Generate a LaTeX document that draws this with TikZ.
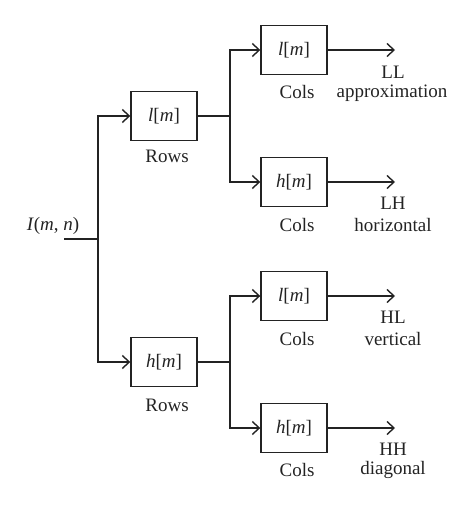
\documentclass[tikz,border=0pt]{standalone}
\usepackage{fontspec}
\setmainfont{Liberation Serif}
\usetikzlibrary{arrows.meta}
\definecolor{ink}{RGB}{35,35,35}
\begin{document}
\begin{tikzpicture}[x=1pt,y=-1pt,
  filt/.style={draw=ink,line width=1.4pt,minimum width=66pt,minimum height=49pt,inner sep=0pt,text=ink,font=\fontsize{19}{21}\selectfont},
  lbl/.style={text=ink,font=\fontsize{19}{21}\selectfont,inner sep=0pt},
  wire/.style={draw=ink,line width=1.4pt},
  arr/.style={wire,-{Straight Barb[length=7pt,width=13pt,line width=1.4pt]}}]
\useasboundingbox (0,0) rectangle (474,505);
% filter boxes
\node[filt] (rl) at (164,116) {\textit{l}[\textit{m}]};
\node[filt] (rh) at (164,362) {\textit{h}[\textit{m}]};
\node[filt] (c1) at (294,50) {\textit{l}[\textit{m}]};
\node[filt] (c2) at (294,182) {\textit{h}[\textit{m}]};
\node[filt] (c3) at (294,296) {\textit{l}[\textit{m}]};
\node[filt] (c4) at (294,428) {\textit{h}[\textit{m}]};
% labels
\node[lbl] (inl) at (53,226) {\textit{I}(\textit{m}, \textit{n})};
\node[lbl] (r1) at (167,156) {Rows};
\node[lbl] (r2) at (167,405) {Rows};
\node[lbl] (k1) at (297,92) {Cols};
\node[lbl] (k2) at (297,225) {Cols};
\node[lbl] (k3) at (297,339) {Cols};
\node[lbl] (k4) at (297,470) {Cols};
\node[lbl] (t1) at (393,72) {LL};
\node[lbl] (u1) at (392,93) {approximation};
\node[lbl] (t2) at (393,203) {LH};
\node[lbl] (u2) at (393,225) {horizontal};
\node[lbl] (t3) at (393,317) {HL};
\node[lbl] (u3) at (393,339) {vertical};
\node[lbl] (t4) at (393,449) {HH};
\node[lbl] (u4) at (393,470) {diagonal};
% junction coordinates
\coordinate (in) at (64,239);
\coordinate (s0) at (98,239);
\coordinate (b1) at (230,116);
\coordinate (b2) at (230,362);
\coordinate (o1) at (395,50);
\coordinate (o2) at (395,182);
\coordinate (o3) at (395,296);
\coordinate (o4) at (395,428);
% connectors
\draw[wire] (in) -- (s0);
\draw[arr] (s0) |- (rl.west);
\draw[arr] (s0) |- (rh.west);
\draw[wire] (rl.east) -- (b1);
\draw[wire] (rh.east) -- (b2);
\draw[arr] (b1) |- (c1.west);
\draw[arr] (b1) |- (c2.west);
\draw[arr] (b2) |- (c3.west);
\draw[arr] (b2) |- (c4.west);
\draw[arr] (c1.east) -- (o1);
\draw[arr] (c2.east) -- (o2);
\draw[arr] (c3.east) -- (o3);
\draw[arr] (c4.east) -- (o4);
\end{tikzpicture}
\end{document}
